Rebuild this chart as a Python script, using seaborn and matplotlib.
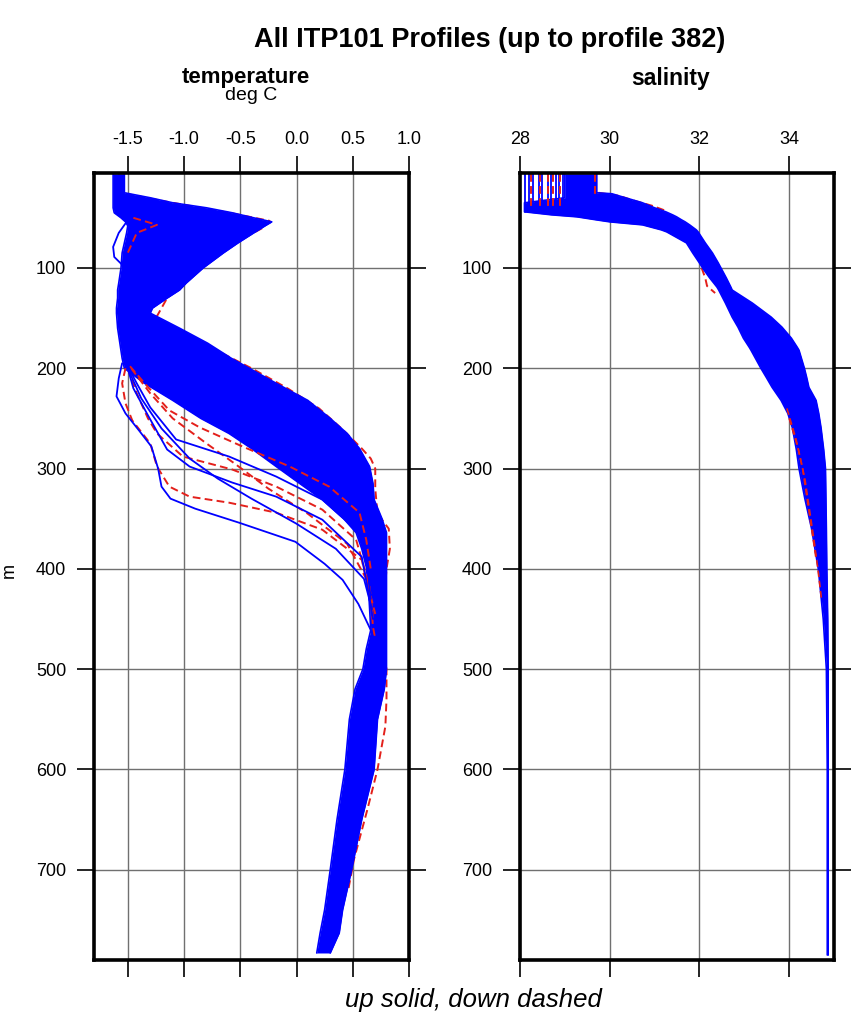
import numpy as np
import pandas as pd
import matplotlib
matplotlib.use("Agg")
import matplotlib.pyplot as plt
import seaborn as sns

# ---------------- data ----------------
# Temperature: envelope of the dense bundle of "up" profiles
t_env_depth = [6, 25, 30, 35, 40, 45, 50, 54, 58, 65, 75, 85, 100, 115, 122, 130, 140, 145,
               160, 175, 190, 200, 215, 232, 250, 265, 280, 298, 315, 331, 350, 364, 380,
               398, 420, 440, 461, 480, 500, 520, 550, 600, 650, 700, 740, 763, 783]
t_env_cold = [-1.63, -1.63, -1.63, -1.63, -1.63, -1.62, -1.56, -1.52, -1.5, -1.51, -1.53, -1.55,
              -1.56, -1.58, -1.59, -1.59, -1.6, -1.6, -1.59, -1.57, -1.55, -1.53, -1.35, -1.1,
              -0.85, -0.6, -0.4, -0.18, 0.03, 0.23, 0.42, 0.53, 0.58, 0.62, 0.64, 0.65, 0.66,
              0.62, 0.59, 0.52, 0.47, 0.43, 0.36, 0.3, 0.25, 0.21, 0.18]
t_env_warm = [-1.53, -1.53, -1.3, -1.1, -0.8, -0.57, -0.38, -0.22, -0.28, -0.38, -0.52, -0.65,
              -0.83, -0.98, -1.04, -1.15, -1.28, -1.3, -1.04, -0.79, -0.58, -0.42, -0.18, 0.1,
              0.3, 0.45, 0.56, 0.65, 0.68, 0.69, 0.76, 0.8, 0.8, 0.8, 0.8, 0.8, 0.8, 0.8, 0.8,
              0.78, 0.72, 0.69, 0.58, 0.49, 0.41, 0.38, 0.3]

# Temperature: individual profiles that stand apart from the bundle
t_up_depths = [
    [45, 54, 65, 79, 89, 99, 110],
    [195, 210, 228, 245, 262, 278, 300, 318, 330, 340, 354, 373, 395, 411, 435, 461, 475],
    [200, 220, 245, 281, 298, 314, 328, 351, 388, 418, 450],
    [198, 215, 239, 271, 288, 308, 331, 364, 398, 430],
    [200, 230, 260, 290, 310, 330, 355, 380, 410, 440],
]
t_up_temps = [
    [-1.55, -1.51, -1.58, -1.63, -1.62, -1.53, -1.5],
    [-1.55, -1.58, -1.6, -1.52, -1.4, -1.29, -1.23, -1.2, -1.12, -0.9, -0.51, -0.01, 0.25, 0.41, 0.55, 0.66, 0.7],
    [-1.5, -1.45, -1.33, -1.15, -0.95, -0.57, -0.18, 0.23, 0.58, 0.63, 0.68],
    [-1.5, -1.42, -1.3, -1.07, -0.6, -0.18, 0.23, 0.56, 0.63, 0.66],
    [-1.5, -1.38, -1.2, -0.95, -0.7, -0.4, 0.0, 0.35, 0.6, 0.67],
]
t_down_depths = [
    [6, 25, 33, 40, 46, 53, 60, 75, 100, 130, 150, 165, 180, 200, 220, 240, 260, 280, 290,
     300, 320, 345, 360, 380, 400, 430, 460, 500, 530, 557, 600, 640, 690, 720],
    [50, 57, 65, 75, 85],
    [200, 215, 235, 252, 275, 298, 318, 328, 334, 344, 361, 391, 430, 458, 470],
    [200, 225, 250, 265, 288, 301, 318, 341, 371, 418, 450],
    [198, 215, 242, 259, 278, 298, 318, 344, 371, 400],
    [200, 225, 250, 275, 295, 320, 345, 375, 410, 445],
]
t_down_temps = [
    [-1.58, -1.56, -1.2, -0.85, -0.55, -0.24, -0.3, -0.55, -0.86, -1.15, -1.25, -0.98, -0.75,
     -0.4, -0.08, 0.2, 0.4, 0.58, 0.66, 0.7, 0.7, 0.72, 0.82, 0.83, 0.8, 0.78, 0.75, 0.8,
     0.8, 0.79, 0.72, 0.63, 0.51, 0.46],
    [-1.45, -1.24, -1.42, -1.46, -1.5],
    [-1.52, -1.55, -1.52, -1.46, -1.3, -1.24, -1.13, -0.95, -0.6, -0.18, 0.23, 0.58, 0.66, 0.68, 0.7],
    [-1.5, -1.42, -1.32, -1.24, -1.01, -0.57, -0.18, 0.23, 0.53, 0.65, 0.68],
    [-1.48, -1.35, -1.13, -0.86, -0.48, -0.06, 0.29, 0.56, 0.62, 0.66],
    [-1.47, -1.3, -1.1, -0.8, -0.55, -0.25, 0.1, 0.45, 0.62, 0.7],
]

# Salinity: envelope of the bundle of "up" profiles
s_env_depth = [6, 25, 26, 30, 35, 40, 44, 47, 49, 52, 54, 57, 62, 64, 75, 85, 95, 100, 110,
               119, 122, 135, 149, 159, 170, 179, 182, 200, 209, 219, 232, 245, 259, 281, 300,
               330, 360, 400, 450, 500, 600, 700, 785]
s_env_fresh = [29.0, 29.0, 29.0, 29.0, 28.1, 28.1, 28.1, 28.7, 29.27, 29.7, 30.0, 30.73, 31.15,
               31.27, 31.71, 31.85, 32.0, 32.07, 32.23, 32.39, 32.43, 32.58, 32.73, 32.86, 32.98,
               33.11, 33.15, 33.37, 33.49, 33.62, 33.82, 33.97, 34.07, 34.16, 34.22, 34.35, 34.5,
               34.65, 34.76, 34.83, 34.85, 34.85, 34.85]
s_env_salty = [29.71, 29.71, 30.05, 30.35, 30.73, 31.0, 31.25, 31.4, 31.49, 31.6, 31.68, 31.78,
               31.93, 31.97, 32.13, 32.29, 32.42, 32.48, 32.6, 32.7, 32.73, 33.18, 33.6, 33.84,
               34.05, 34.18, 34.22, 34.34, 34.39, 34.44, 34.6, 34.66, 34.71, 34.77, 34.81, 34.82,
               34.83, 34.84, 34.86, 34.87, 34.87, 34.87, 34.87]

# Salinity: surface mixed-layer values and mixed-layer depths of single profiles
s_ml_up_sal = [28.12, 28.2, 28.3, 28.42, 28.5, 28.62, 28.7, 28.8, 28.88, 28.95]
s_ml_up_mld = [44, 43, 44, 42, 44, 41, 43, 44, 40, 42]
s_ml_dn_sal = [28.25, 28.45, 28.62, 28.74, 28.9, 29.68]
s_ml_dn_mld = [40, 42, 38, 41, 39, 27]
s_down_depths = [
    [25, 28, 33, 38, 43],
    [44, 46, 49, 52, 55, 58],
    [100, 110, 118, 125],
    [250, 280, 310, 340, 370, 400, 430],
    [240, 270, 300, 330, 360, 390],
]
s_down_sal = [
    [29.75, 30.2, 30.55, 30.95, 31.25],
    [28.6, 28.9, 29.4, 30.0, 30.7, 31.2],
    [32.05, 32.13, 32.17, 32.35],
    [34.0, 34.2, 34.35, 34.45, 34.55, 34.64, 34.72],
    [33.95, 34.15, 34.3, 34.4, 34.5, 34.6],
]

t_ticks = [-1.5, -1.0, -0.5, 0.0, 0.5, 1.0]
t_ticklabels = ["-1.5", "-1.0", "-0.5", "0.0", "0.5", "1.0"]
s_ticks = [28, 30, 32, 34]
s_ticklabels = ["28", "30", "32", "34"]
depth_ticks = [100, 200, 300, 400, 500, 600, 700]

title = "All ITP101 Profiles (up to profile 382)"
footer = "up solid, down dashed"

# ---------------- styling ----------------
sns.set_theme(style="white")
plt.rcParams["font.family"] = ["Liberation Sans", "DejaVu Sans"]
plt.rcParams["text.color"] = "black"

BLUE = "#0000ff"
RED = "#e3201b"

fig = plt.figure(figsize=(8.66, 10.24), dpi=100)
ax_t = fig.add_axes([94 / 866, 1 - 960 / 1024, 315 / 866, 787 / 1024])
ax_s = fig.add_axes([520 / 866, 1 - 960 / 1024, 314 / 866, 787 / 1024])


def line(ax, x, y, color, dashed=False, lw=1.3, z=4):
    df = pd.DataFrame({"x": x, "y": y})
    kw = dict(linestyle=(0, (4, 2.2))) if dashed else {}
    sns.lineplot(data=df, x="x", y="y", orient="y", sort=False, estimator=None,
                 ax=ax, color=color, lw=lw, zorder=z, **kw)


# temperature panel
line(ax_t, t_down_temps[0], t_down_depths[0], RED, dashed=True, lw=1.4, z=2)
ax_t.fill_betweenx(t_env_depth, t_env_cold, t_env_warm, color=BLUE, lw=0, zorder=3)
line(ax_t, t_env_cold, t_env_depth, BLUE, lw=1.2, z=3)
line(ax_t, t_env_warm, t_env_depth, BLUE, lw=1.2, z=3)
for d, t in zip(t_down_depths[1:], t_down_temps[1:]):
    line(ax_t, t, d, RED, dashed=True, lw=1.4, z=4)
for d, t in zip(t_up_depths, t_up_temps):
    line(ax_t, t, d, BLUE, lw=1.3, z=5)

# salinity panel
for d, s in zip(s_down_depths[:3], s_down_sal[:3]):
    line(ax_s, s, d, RED, dashed=True, lw=1.4, z=2)
ax_s.fill_betweenx(s_env_depth, s_env_fresh, s_env_salty, color=BLUE, lw=0, zorder=3)
line(ax_s, s_env_fresh, s_env_depth, BLUE, lw=1.2, z=3)
line(ax_s, s_env_salty, s_env_depth, BLUE, lw=1.2, z=3)
for s, m in zip(s_ml_up_sal, s_ml_up_mld):
    line(ax_s, [s, s], [6, m], BLUE, lw=1.3, z=4)
for s, m in zip(s_ml_dn_sal, s_ml_dn_mld):
    line(ax_s, [s, s], [6, m], RED, dashed=True, lw=1.4, z=5)
for d, s in zip(s_down_depths[3:], s_down_sal[3:]):
    line(ax_s, s, d, RED, dashed=True, lw=1.2, z=4)

for ax, xl, ticks, labels in [(ax_t, (-1.80, 1.0), t_ticks, t_ticklabels),
                              (ax_s, (28.0, 35.0), s_ticks, s_ticklabels)]:
    ax.set_xlim(*xl)
    ax.set_ylim(790, 5.3)
    ax.set_xlabel("")
    ax.set_ylabel("")
    ax.set_xticks(ticks)
    ax.set_xticklabels(labels)
    ax.set_yticks(depth_ticks)
    ax.set_yticklabels([str(v) for v in depth_ticks])
    ax.grid(True, color="#707070", lw=1.0, zorder=0)
    ax.set_axisbelow(True)
    ax.tick_params(axis="x", which="both", direction="out", length=12, width=1.2,
                   color="black", labelcolor="black", top=True, bottom=True,
                   labeltop=True, labelbottom=False, labelsize=13, pad=6)
    ax.tick_params(axis="y", which="both", direction="out", length=12, width=1.2,
                   color="black", labelcolor="black", left=True, right=True,
                   labelleft=True, labelright=False, labelsize=13, pad=8)
    for sp in ax.spines.values():
        sp.set_visible(True)
        sp.set_color("black")
        sp.set_linewidth(2.6)
        sp.set_zorder(10)

fig.text(490 / 866, 1 - 40 / 1024, title, ha="center", va="center", fontsize=19.5,
         fontweight="bold")
fig.text(246 / 866, 1 - 78 / 1024, "temperature", ha="center", va="center", fontsize=16,
         fontweight="bold")
fig.text(251 / 866, 1 - 96 / 1024, "deg C", ha="center", va="center", fontsize=14)
fig.text(671 / 866, 1 - 78 / 1024, "salinity", ha="center", va="center", fontsize=16.5,
         fontweight="bold")
fig.text(473 / 866, 1 - 1000 / 1024, footer, ha="center", va="center", fontsize=18.5,
         style="italic")
fig.text(9 / 866, 1 - 570 / 1024, "m", ha="center", va="center", fontsize=13, rotation=90)

fig.savefig("out.png", dpi=100)
